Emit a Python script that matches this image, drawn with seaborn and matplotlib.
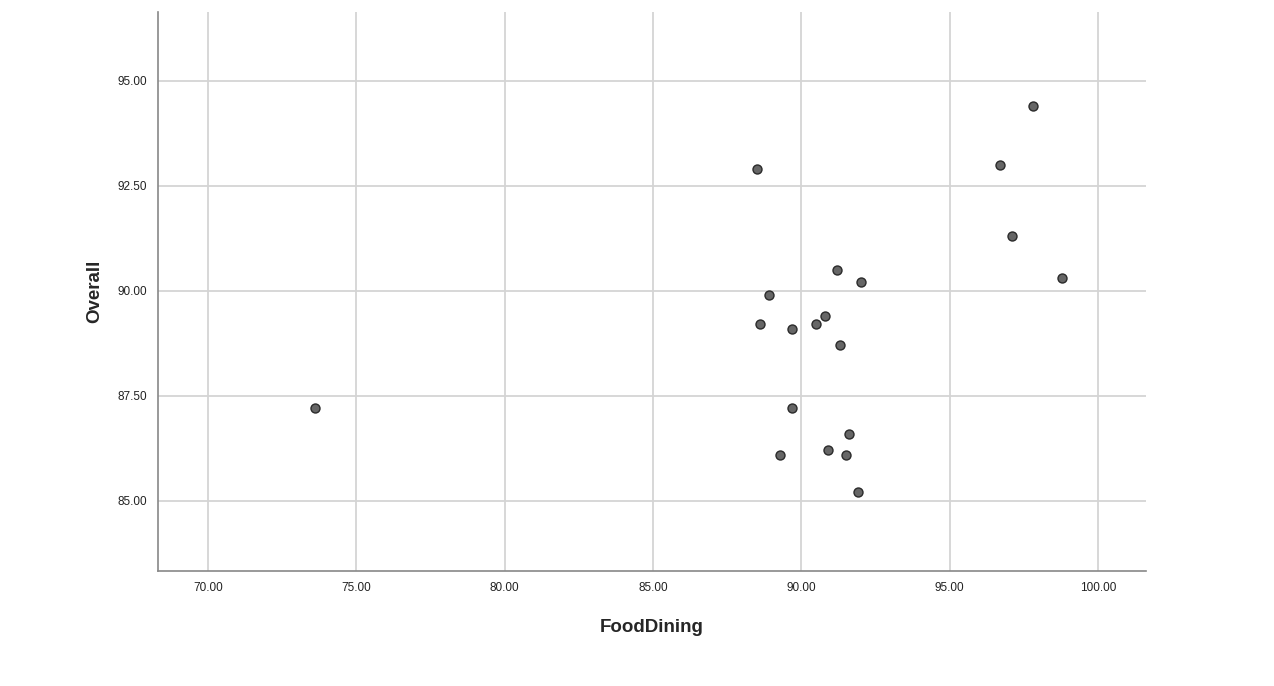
import matplotlib
matplotlib.use("Agg")
import matplotlib.pyplot as plt
import seaborn as sns
import pandas as pd

# values
food_dining = [73.6, 88.5, 97.8, 96.7, 97.1, 98.8, 91.2, 92.0, 88.9, 88.6,
               89.7, 90.5, 90.8, 91.3, 89.7, 91.6, 89.3, 90.9, 91.5, 91.9]
overall = [87.2, 92.9, 94.4, 93.0, 91.3, 90.3, 90.5, 90.2, 89.9, 89.2,
           89.1, 89.2, 89.4, 88.7, 87.2, 86.6, 86.1, 86.2, 86.1, 85.2]
x_ticks = [70, 75, 80, 85, 90, 95, 100]
y_ticks = [85, 87.5, 90, 92.5, 95]

df = pd.DataFrame({"FoodDining": food_dining, "Overall": overall})

sns.set_style("white")
plt.rcParams["font.family"] = ["Liberation Sans", "DejaVu Sans"]

fig = plt.figure(figsize=(12.74, 6.86), dpi=100)
ax = fig.add_axes([0.124, 0.1676, 0.7755, 0.815])

sns.scatterplot(data=df, x="FoodDining", y="Overall", ax=ax,
                color="#666666", edgecolor="#2a2a2a", linewidth=1.0,
                s=42, zorder=3)

ax.set_xlim(68.32, 101.62)
ax.set_ylim(83.33, 96.64)
ax.set_xticks(x_ticks)
ax.set_yticks(y_ticks)
ax.set_xticklabels([f"{v:.2f}" for v in x_ticks], fontsize=8.5, color="#222222")
ax.set_yticklabels([f"{v:.2f}" for v in y_ticks], fontsize=8.5, color="#222222")
ax.tick_params(length=0, pad=8)

ax.grid(True, color="#d4d4d4", linewidth=1.3, zorder=0)
ax.set_axisbelow(True)

for side in ["top", "right"]:
    ax.spines[side].set_visible(False)
for side in ["left", "bottom"]:
    ax.spines[side].set_color("#888888")
    ax.spines[side].set_linewidth(1.2)

ax.set_xlabel("FoodDining", fontsize=13.5, fontweight="bold", labelpad=18)
ax.set_ylabel("Overall", fontsize=13.5, fontweight="bold", labelpad=10)

fig.savefig("out.png", dpi=100)
